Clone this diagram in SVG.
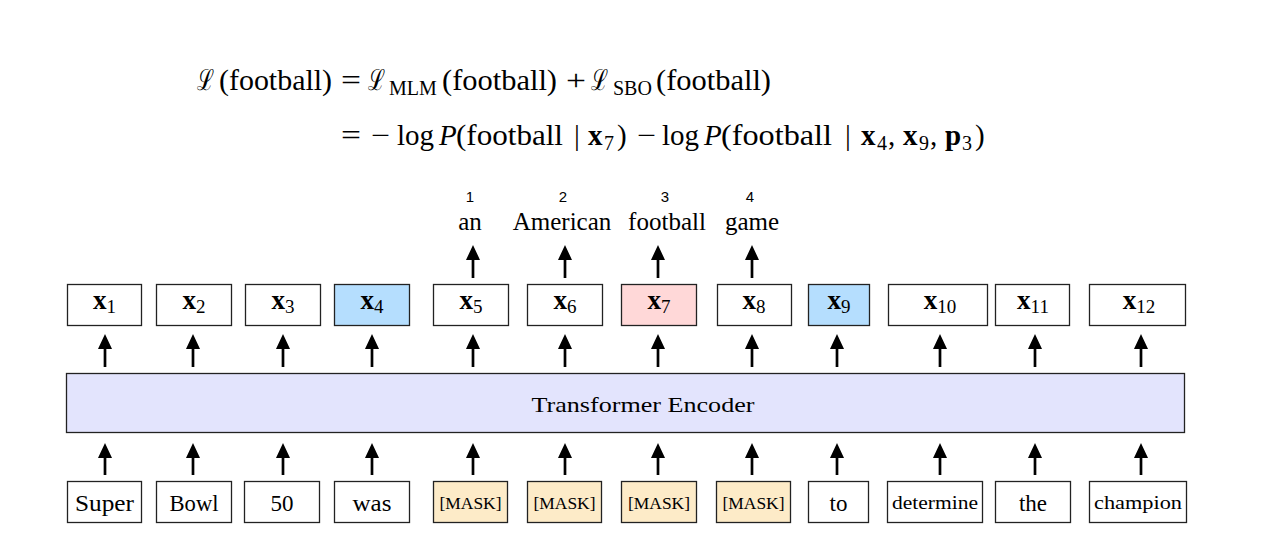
<svg xmlns="http://www.w3.org/2000/svg" width="1276" height="558" viewBox="0 0 1276 558">
<style>
.box{fill:#fff;stroke:#222;stroke-width:1.3}
.blue{fill:#b5defe}
.pink{fill:#ffd8d8}
.mask{fill:#fdebc8}
.enc{fill:#e3e4fd;stroke:#222;stroke-width:1.3}
.serif{font-family:"Liberation Serif","DejaVu Serif",serif;fill:#000}
.vec{font-size:27px;font-weight:bold}
.sub{font-size:19px;font-weight:normal}
.word{font-size:23px}
.mk{font-size:17px}
.out{font-size:25px}
.num{font-family:"Liberation Sans",Arial,sans-serif;font-size:15px;fill:#000}
.eq text{font-family:"Liberation Serif","DejaVu Serif",serif;font-size:29px;fill:#000}
.eq .es{font-size:20px}
.eq .b{font-weight:bold}
.eq .i{font-style:italic}
.arr{stroke:#000;stroke-width:2.7;fill:none;marker-end:url(#ah)}
</style>
<defs>
<marker id="ah" markerUnits="userSpaceOnUse" markerWidth="16" markerHeight="16" viewBox="0 0 16 14" refX="5" refY="7" orient="auto">
<path d="M0,0 L15,7 L0,14 z" fill="#000"/>
</marker>
</defs>
<rect width="1276" height="558" fill="#fff"/>

<g id="equation" class="eq">
<text x="197" y="90" textLength="17" lengthAdjust="spacingAndGlyphs">ℒ</text>
<text x="219" y="90" textLength="113" lengthAdjust="spacingAndGlyphs">(football)</text>
<text x="341" y="90" textLength="20" lengthAdjust="spacingAndGlyphs">=</text>
<text x="368" y="90" textLength="17" lengthAdjust="spacingAndGlyphs">ℒ</text>
<text class="es" x="389" y="95">MLM</text>
<text x="442" y="90" textLength="115" lengthAdjust="spacingAndGlyphs">(football)</text>
<text x="566" y="90" textLength="20" lengthAdjust="spacingAndGlyphs">+</text>
<text x="591" y="90" textLength="17" lengthAdjust="spacingAndGlyphs">ℒ</text>
<text class="es" x="613" y="95">SBO</text>
<text x="656" y="90" textLength="115" lengthAdjust="spacingAndGlyphs">(football)</text>

<text x="341" y="145" textLength="20" lengthAdjust="spacingAndGlyphs">=</text>
<text x="371" y="145" textLength="19" lengthAdjust="spacingAndGlyphs">−</text>
<text x="397" y="145">log</text>
<text class="i" x="439" y="145">P</text>
<text x="456" y="145" textLength="107" lengthAdjust="spacingAndGlyphs">(football</text>
<text x="574" y="145">|</text>
<text class="b" x="588" y="145">x</text>
<text class="es" x="604" y="150">7</text>
<text x="617" y="145">)</text>
<text x="637" y="145" textLength="19" lengthAdjust="spacingAndGlyphs">−</text>
<text x="662" y="145">log</text>
<text class="i" x="704" y="145">P</text>
<text x="721" y="145" textLength="111" lengthAdjust="spacingAndGlyphs">(football</text>
<text x="845" y="145">|</text>
<text class="b" x="861" y="145">x</text>
<text class="es" x="877" y="150">4</text>
<text x="888" y="145">,</text>
<text class="b" x="903" y="145">x</text>
<text class="es" x="919" y="150">9</text>
<text x="930" y="145">,</text>
<text class="b" x="945" y="145">p</text>
<text class="es" x="962" y="150">3</text>
<text x="975" y="145">)</text>
</g>

<g id="outputs">
<g id="out1"><text class="num" x="470" y="202" text-anchor="middle">1</text><text class="serif out" x="470" y="230" text-anchor="middle">an</text></g>
<g id="out2"><text class="num" x="563" y="202" text-anchor="middle">2</text><text class="serif out" x="562" y="230" text-anchor="middle">American</text></g>
<g id="out3"><text class="num" x="665" y="202" text-anchor="middle">3</text><text class="serif out" x="667" y="230" text-anchor="middle">football</text></g>
<g id="out4"><text class="num" x="750" y="202" text-anchor="middle">4</text><text class="serif out" x="752" y="230" text-anchor="middle">game</text></g>
</g>

<g id="x1"><rect class="box" x="67.5" y="284.5" width="74" height="41"/><text class="serif vec" x="104.5" y="309" text-anchor="middle">x<tspan class="sub" dy="4">1</tspan></text></g>
<g id="x2"><rect class="box" x="156.5" y="284.5" width="75" height="41"/><text class="serif vec" x="194" y="309" text-anchor="middle">x<tspan class="sub" dy="4">2</tspan></text></g>
<g id="x3"><rect class="box" x="245.5" y="284.5" width="75" height="41"/><text class="serif vec" x="283" y="309" text-anchor="middle">x<tspan class="sub" dy="4">3</tspan></text></g>
<g id="x4"><rect class="box blue" x="334.5" y="284.5" width="75" height="41"/><text class="serif vec" x="372" y="309" text-anchor="middle">x<tspan class="sub" dy="4">4</tspan></text></g>
<g id="x5"><rect class="box" x="433.5" y="284.5" width="75" height="41"/><text class="serif vec" x="471" y="309" text-anchor="middle">x<tspan class="sub" dy="4">5</tspan></text></g>
<g id="x6"><rect class="box" x="527.5" y="284.5" width="75" height="41"/><text class="serif vec" x="565" y="309" text-anchor="middle">x<tspan class="sub" dy="4">6</tspan></text></g>
<g id="x7"><rect class="box pink" x="621.5" y="284.5" width="75" height="41"/><text class="serif vec" x="659" y="309" text-anchor="middle">x<tspan class="sub" dy="4">7</tspan></text></g>
<g id="x8"><rect class="box" x="717.5" y="284.5" width="74" height="41"/><text class="serif vec" x="754" y="309" text-anchor="middle">x<tspan class="sub" dy="4">8</tspan></text></g>
<g id="x9"><rect class="box blue" x="808.5" y="284.5" width="61" height="41"/><text class="serif vec" x="839" y="309" text-anchor="middle">x<tspan class="sub" dy="4">9</tspan></text></g>
<g id="x10"><rect class="box" x="888.5" y="284.5" width="99" height="41"/><text class="serif vec" x="940" y="309" text-anchor="middle">x<tspan class="sub" dy="4">10</tspan></text></g>
<g id="x11"><rect class="box" x="995.5" y="284.5" width="74" height="41"/><text class="serif vec" x="1033" y="309" text-anchor="middle">x<tspan class="sub" dy="4">11</tspan></text></g>
<g id="x12"><rect class="box" x="1089.5" y="284.5" width="96" height="41"/><text class="serif vec" x="1139" y="309" text-anchor="middle">x<tspan class="sub" dy="4">12</tspan></text></g>

<g id="encoder"><rect class="enc" x="66.5" y="373.5" width="1118" height="59"/><text class="serif" font-size="22" x="643" y="412" text-anchor="middle" textLength="223" lengthAdjust="spacingAndGlyphs">Transformer Encoder</text></g>

<g id="t1"><rect class="box" x="67.5" y="481.5" width="74" height="41"/><text class="serif word" x="104.5" y="511" text-anchor="middle" textLength="59" lengthAdjust="spacingAndGlyphs">Super</text></g>
<g id="t2"><rect class="box" x="156.5" y="481.5" width="75" height="41"/><text class="serif word" x="194" y="511" text-anchor="middle" textLength="49" lengthAdjust="spacingAndGlyphs">Bowl</text></g>
<g id="t3"><rect class="box" x="244.5" y="481.5" width="75" height="41"/><text class="serif word" x="282" y="511" text-anchor="middle">50</text></g>
<g id="t4"><rect class="box" x="334.5" y="481.5" width="75" height="41"/><text class="serif word" x="372" y="511" text-anchor="middle" textLength="39" lengthAdjust="spacingAndGlyphs">was</text></g>
<g id="t5"><rect class="box mask" x="433.5" y="481.5" width="74" height="41"/><text class="serif mk" x="470.5" y="509" text-anchor="middle" textLength="62" lengthAdjust="spacingAndGlyphs">[MASK]</text></g>
<g id="t6"><rect class="box mask" x="527.5" y="481.5" width="74" height="41"/><text class="serif mk" x="564.5" y="509" text-anchor="middle" textLength="62" lengthAdjust="spacingAndGlyphs">[MASK]</text></g>
<g id="t7"><rect class="box mask" x="621.5" y="481.5" width="75" height="41"/><text class="serif mk" x="659" y="509" text-anchor="middle" textLength="62" lengthAdjust="spacingAndGlyphs">[MASK]</text></g>
<g id="t8"><rect class="box mask" x="716.5" y="481.5" width="74" height="41"/><text class="serif mk" x="753.5" y="509" text-anchor="middle" textLength="62" lengthAdjust="spacingAndGlyphs">[MASK]</text></g>
<g id="t9"><rect class="box" x="808.5" y="481.5" width="60" height="41"/><text class="serif word" x="838.5" y="511" text-anchor="middle">to</text></g>
<g id="t10"><rect class="box" x="887.5" y="481.5" width="95" height="41"/><text class="serif" font-size="18" x="935" y="509" text-anchor="middle" textLength="86" lengthAdjust="spacingAndGlyphs">determine</text></g>
<g id="t11"><rect class="box" x="995.5" y="481.5" width="75" height="41"/><text class="serif word" x="1033" y="511" text-anchor="middle">the</text></g>
<g id="t12"><rect class="box" x="1089.5" y="481.5" width="97" height="41"/><text class="serif" font-size="18" x="1138" y="509" text-anchor="middle" textLength="88" lengthAdjust="spacingAndGlyphs">champion</text></g>

<g id="connectors">
<line class="arr" x1="473" y1="278" x2="473" y2="255"/>
<line class="arr" x1="565" y1="278" x2="565" y2="255"/>
<line class="arr" x1="658" y1="278" x2="658" y2="255"/>
<line class="arr" x1="752" y1="278" x2="752" y2="255"/>

<line class="arr" x1="105" y1="367" x2="105" y2="344"/>
<line class="arr" x1="193" y1="367" x2="193" y2="344"/>
<line class="arr" x1="283" y1="367" x2="283" y2="344"/>
<line class="arr" x1="372" y1="367" x2="372" y2="344"/>
<line class="arr" x1="473" y1="367" x2="473" y2="344"/>
<line class="arr" x1="565" y1="367" x2="565" y2="344"/>
<line class="arr" x1="658" y1="367" x2="658" y2="344"/>
<line class="arr" x1="752" y1="367" x2="752" y2="344"/>
<line class="arr" x1="837" y1="367" x2="837" y2="344"/>
<line class="arr" x1="940" y1="367" x2="940" y2="344"/>
<line class="arr" x1="1035" y1="367" x2="1035" y2="344"/>
<line class="arr" x1="1141" y1="367" x2="1141" y2="344"/>

<line class="arr" x1="105" y1="475" x2="105" y2="453"/>
<line class="arr" x1="193" y1="475" x2="193" y2="453"/>
<line class="arr" x1="283" y1="475" x2="283" y2="453"/>
<line class="arr" x1="372" y1="475" x2="372" y2="453"/>
<line class="arr" x1="473" y1="475" x2="473" y2="453"/>
<line class="arr" x1="565" y1="475" x2="565" y2="453"/>
<line class="arr" x1="658" y1="475" x2="658" y2="453"/>
<line class="arr" x1="752" y1="475" x2="752" y2="453"/>
<line class="arr" x1="837" y1="475" x2="837" y2="453"/>
<line class="arr" x1="940" y1="475" x2="940" y2="453"/>
<line class="arr" x1="1035" y1="475" x2="1035" y2="453"/>
<line class="arr" x1="1141" y1="475" x2="1141" y2="453"/>
</g>
</svg>
